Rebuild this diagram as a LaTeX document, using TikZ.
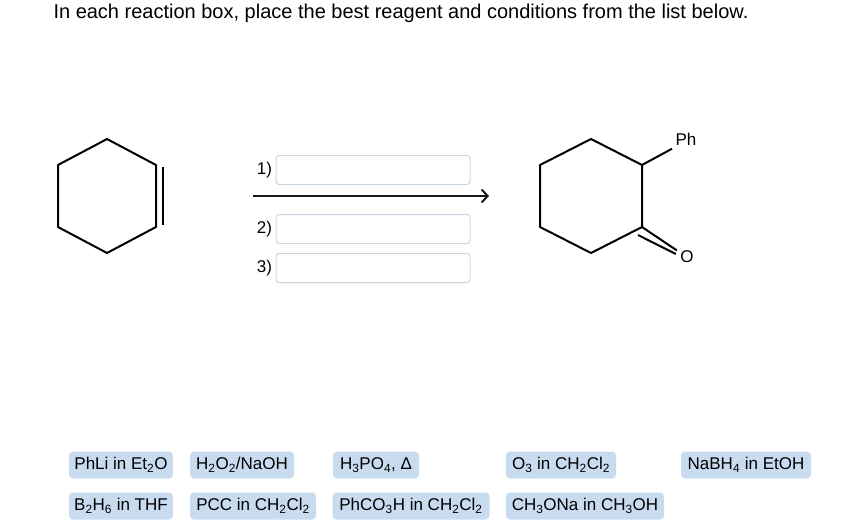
\documentclass[tikz,border=0pt]{standalone}
\usepackage{fontspec}
\setmainfont{Liberation Sans}
\usetikzlibrary{positioning,arrows.meta}
\newcommand{\subs}[1]{\textsubscript{#1}}
\definecolor{chipblue}{HTML}{C8DBEF}
\definecolor{slotline}{HTML}{C9D6E4}
\begin{document}
\begin{tikzpicture}[x=1pt,y=-1pt,
    bond/.style={line width=2pt,line join=round},
    slot/.style={draw=slotline,line width=1pt,rounded corners=3pt,minimum width=194pt,minimum height=29pt,inner sep=0pt},
    chip/.style={fill=chipblue,rounded corners=4pt,minimum height=27pt,inner sep=0pt},
    every node/.style={font=\fontsize{17}{19}\selectfont}]
\useasboundingbox (0,0) rectangle (851,532);
    %Enunciado
    \node[anchor=base west,font=\fontsize{20}{22}\selectfont] (title) at (50,19)
        {In each reaction box, place the best reagent and conditions from the list below.};

    %Reactivo
    \draw[bond] (107,139) -- (156,165) -- (156,227) -- (107,253) -- (58,227) -- (58,165) -- cycle;
    \draw[bond] (163,167) -- (163,225);

    %Producto
    \node (ph) at (686,139) {Ph};
    \node (oxy) at (687,257) {O};
    \draw[bond] (591,139) -- (642,165) -- (642,227) -- (591,253) -- (540,227) -- (540,165) -- cycle;
    \draw[bond] (642,165) -- (ph.south west);
    \draw[bond] (642,227) -- ([yshift=-3pt]oxy.north west);
    \draw[bond] (638,235) -- ([xshift=-1pt,yshift=3pt]oxy.west);

    %Flecha y casillas
    \coordinate (ini) at (253,196);
    \coordinate (fin) at (489,196);
    \draw[line width=2pt,gray!20!black,-{Straight Barb[length=6pt,width=13pt]}] (ini) -- (fin);
    \foreach \n/\y in {1/170,2/229,3/268}{
        \node[slot] (box\n) at (373,\y) {};
        \node[left=0pt of box\n] (lbl\n) {\n)};
    }

    %Lista de reactivos
    \foreach \i/\x/\y/\w/\t in {
        a/121/465/104/{PhLi in Et\subs{2}O},
        b/242/465/104/{H\subs{2}O\subs{2}/NaOH},
        c/376/465/86/{H\subs{3}PO\subs{4}, Δ},
        d/561/465/110/{O\subs{3} in CH\subs{2}Cl\subs{2}},
        e/746/465/130/{NaBH\subs{4} in EtOH},
        f/121/506/104/{B\subs{2}H\subs{6} in THF},
        g/253/506/126/{PCC in CH\subs{2}Cl\subs{2}},
        h/411/506/157/{PhCO\subs{3}H in CH\subs{2}Cl\subs{2}},
        k/585/506/158/{CH\subs{3}ONa in CH\subs{3}OH}}{
        \node[chip,minimum width=\w pt] (chip\i) at (\x,\y) {\t};
    }
\end{tikzpicture}
\end{document}
